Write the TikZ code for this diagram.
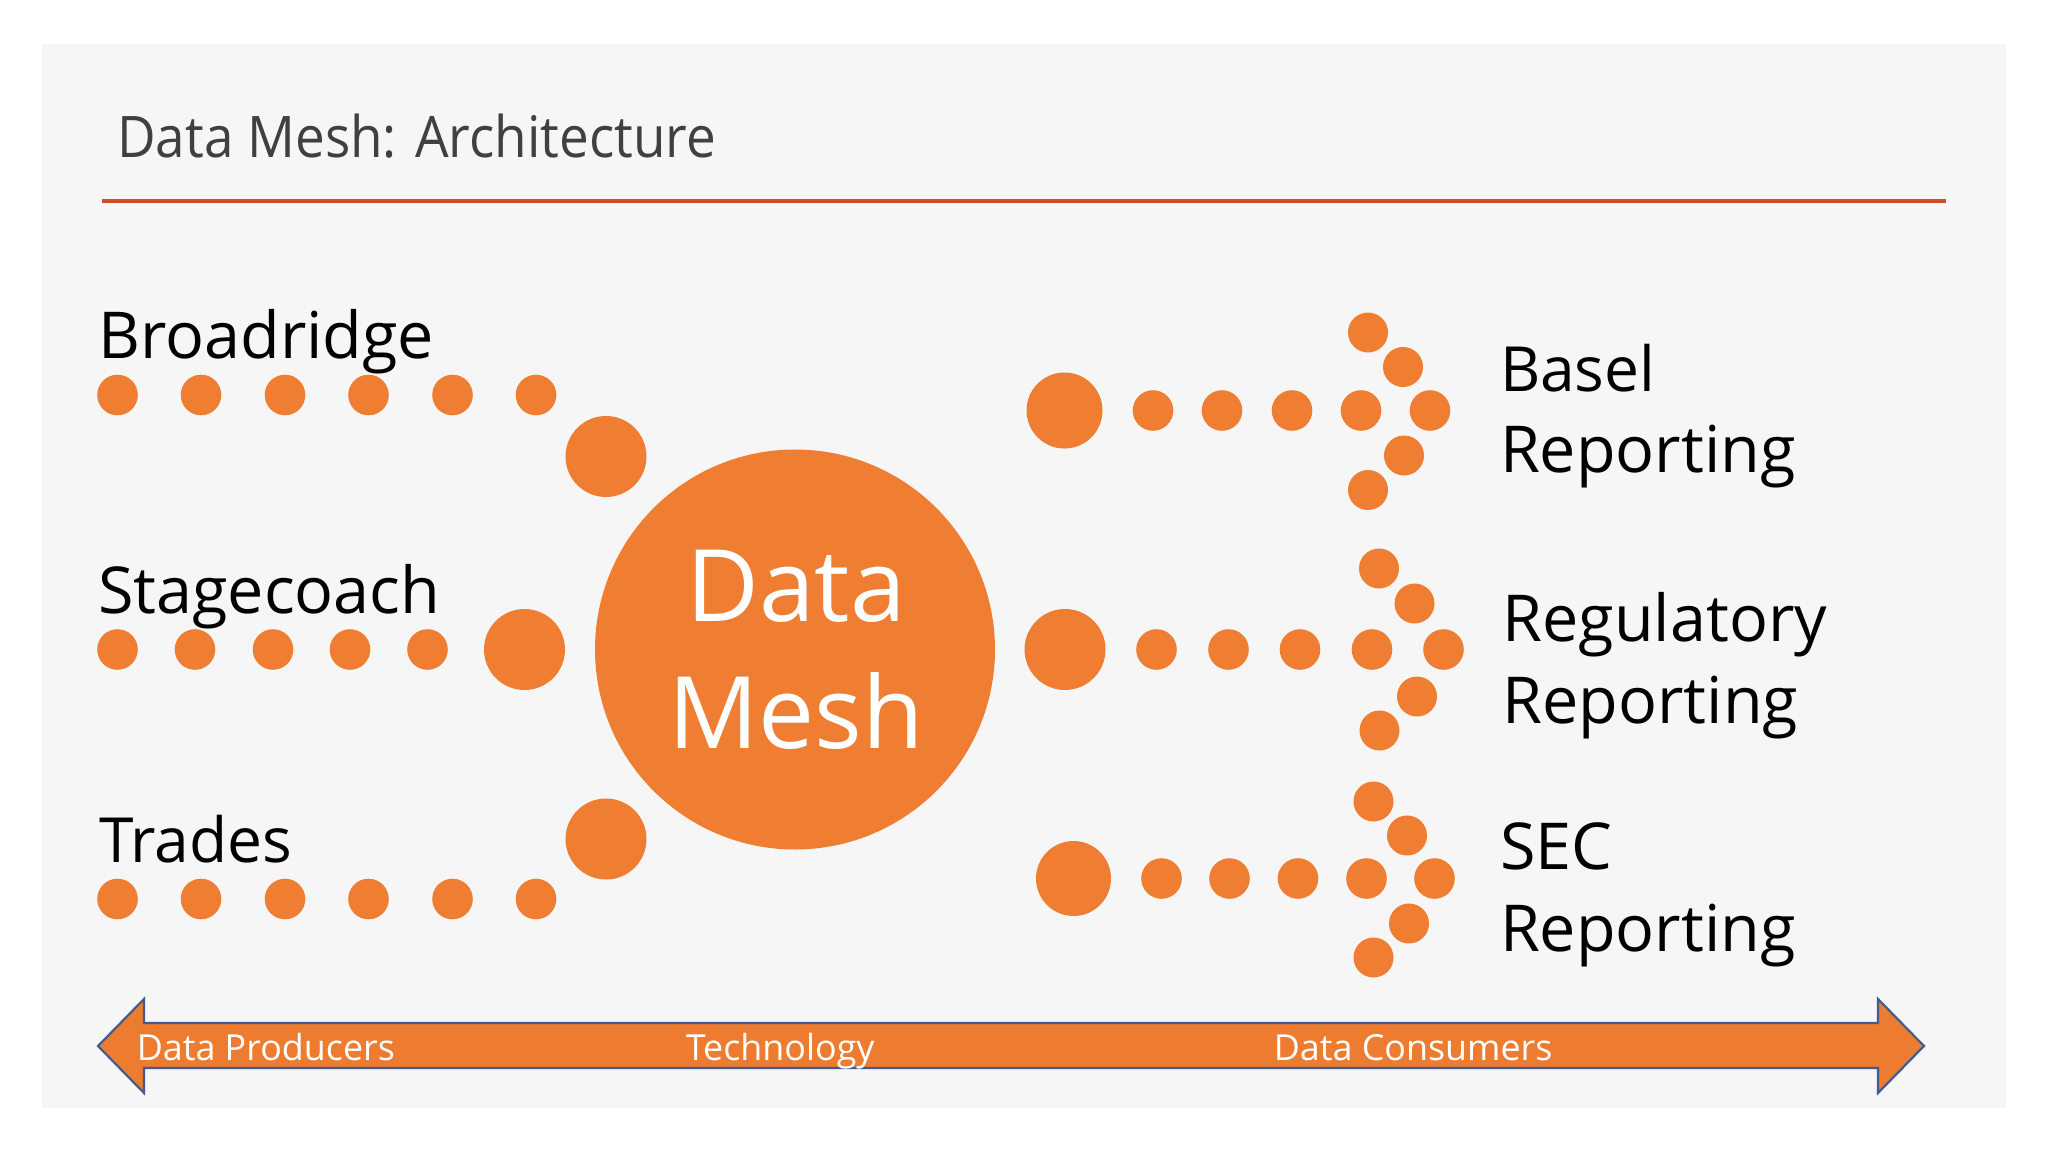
\documentclass[tikz,border=0pt]{standalone}
\usepackage{fontspec}
\setmainfont{Open Sans}
\newfontfamily\titlefont[FakeStretch=0.925]{Open Sans}
\definecolor{panel}{HTML}{F6F6F7}
\definecolor{dotc}{HTML}{EF7D32}
\definecolor{arrowc}{HTML}{ED7B30}
\definecolor{edgec}{HTML}{3F5B8F}
\definecolor{rulec}{HTML}{D2492B}
\definecolor{titlec}{HTML}{404040}
\tikzset{
 lbl/.style={anchor=base west,inner sep=0pt,outer sep=0pt,text=black},
 big/.style={font=\fontsize{48.5}{48.5}\selectfont},
 small/.style={font=\fontsize{46.7}{46.7}\selectfont},
 mesh/.style={anchor=base,inner sep=0pt,text=white,font=\fontsize{75}{75}\selectfont},
 band/.style={anchor=base west,inner sep=0pt,text=white,font=\fontsize{26.9}{26.9}\selectfont},
}
\newcommand{\dotrow}[2]{\foreach \xx in {#1} {\fill[dotc] (\xx,#2) circle[radius=20.3];}}
\newcommand{\fan}[8]{\foreach \xx/\yy in {#1/#2,#3/#4,#5/#6,#7/#8} {\fill[dotc] (\xx,\yy) circle[radius=20];}}
\begin{document}
\begin{tikzpicture}[x=0.75pt,y=-0.75pt]
\useasboundingbox (0,0) rectangle (2048,1152);
\fill[white] (0,0) rectangle (2048,1152);
\fill[panel] (42,44) rectangle (2006,1108);
\node[anchor=base west,inner sep=0pt,text=titlec,font=\titlefont\fontsize{43}{43}\selectfont] (title) at (117,158) {Data Mesh: Architecture};
\draw[rulec,line width=2.6pt] (102,201) -- (1946,201);
% producers
\node[lbl,big] (broad) at (98.5,358) {Broadridge};
\dotrow{117.5,201,285,368.5,452.5,536}{395}
\fill[dotc] (606,456.5) circle[radius=40.5];
\node[lbl,big] (stage) at (98,613) {Stagecoach};
\dotrow{117.5,195,273,350,427.5}{649.5}
\fill[dotc] (524.5,649.5) circle[radius=40.5];
\node[lbl,small] (trades) at (99,862) {Trades};
\dotrow{117.5,201,285,368.5,452.5,536}{899}
\fill[dotc] (606,839) circle[radius=40.5];
% hub
\fill[dotc] (795,649.5) circle[radius=200];
\node[mesh] (data) at (796,621) {Data};
\node[mesh] (meshw) at (796,748) {Mesh};
% consumers
\fill[dotc] (1064.5,410.5) circle[radius=38];
\dotrow{1153,1222,1292,1361,1430}{410.5}
\fan{1368}{332.5}{1403}{367}{1404}{455.5}{1368}{490}
\node[lbl,small] (basel) at (1500,391) {Basel};
\node[lbl,big] (rep1) at (1500,472) {Reporting};
\fill[dotc] (1065,649.5) circle[radius=40.5];
\dotrow{1156.5,1228.5,1300,1372,1443.5}{649.5}
\fan{1379}{568.5}{1414.5}{603.5}{1417}{696.5}{1379.5}{730.5}
\node[lbl,big] (reg) at (1502.5,641.5) {Regulatory};
\node[lbl,big] (rep2) at (1502.5,723) {Reporting};
\fill[dotc] (1073.5,878.5) circle[radius=37.5];
\dotrow{1161.5,1229.5,1298,1366.5,1434.5}{878.5}
\fan{1373.5}{801.5}{1407}{835.5}{1409}{923.5}{1373.5}{957.5}
\node[lbl,big] (sec) at (1500,869) {SEC};
\node[lbl,big] (rep3) at (1500,951) {Reporting};
% band arrow
\draw[edgec,fill=arrowc,line width=1.6pt,line join=miter]
 (98,1046) -- (144,999) -- (144,1023) -- (1878,1023) -- (1878,999) -- (1924,1046)
 -- (1878,1093) -- (1878,1068) -- (144,1068) -- (144,1093) -- cycle;
\node[band] (prod) at (136.5,1060) {Data Producers};
\node[band] (tech) at (685.5,1060) {Technology};
\node[band] (cons) at (1273.5,1060) {Data Consumers};
\end{tikzpicture}
\end{document}
